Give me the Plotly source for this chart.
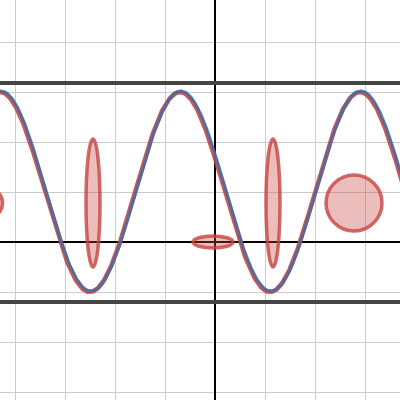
import numpy as np
import plotly.graph_objects as go

# curve parameters: y = mid + amp*cos(2*pi*(x - peak_x)/period)
mid, amp, period, peak_x = 1.0, 2.0, 3.6, -0.7
hlines = [3.18, -1.2]
# ellipses: (cx, cy, rx, ry)
ell_cx = [-2.44, 1.16, -0.04, 2.78, -4.55]
ell_cy = [0.78, 0.78, 0.0, 0.78, 0.78]
ell_rx = [0.14, 0.14, 0.4, 0.56, 0.3]
ell_ry = [1.28, 1.28, 0.12, 0.56, 0.3]

xs = np.linspace(-4.4, 3.8, 800)
ys = mid + amp*np.cos(2*np.pi*(xs-peak_x)/period)

fig = go.Figure()
fig.add_trace(go.Scatter(x=xs, y=ys, mode='lines', line=dict(color='rgba(199,68,64,0.9)', width=4.5)))
fig.add_trace(go.Scatter(x=xs+0.02, y=ys+0.02, mode='lines', line=dict(color='rgba(45,112,179,0.75)', width=3)))
shapes = []
for y in hlines:
    shapes.append(dict(type='line', xref='paper', x0=0, x1=1, y0=y, y1=y, line=dict(color='#444', width=4)))
for cx, cy, rx, ry in zip(ell_cx, ell_cy, ell_rx, ell_ry):
    shapes.append(dict(type='circle', x0=cx-rx, x1=cx+rx, y0=cy-ry, y1=cy+ry,
                       fillcolor='rgba(199,68,64,0.35)', line=dict(color='rgba(199,68,64,0.8)', width=3.5)))
fig.update_layout(shapes=shapes, width=400, height=400, margin=dict(l=0, r=0, t=0, b=0),
                  showlegend=False, plot_bgcolor='white', paper_bgcolor='white')
ax = dict(showticklabels=False, dtick=1, tick0=0, gridcolor='#ccc', gridwidth=1,
          zeroline=True, zerolinecolor='black', zerolinewidth=1.5, fixedrange=True)
fig.update_xaxes(range=[-4.3, 3.7], **ax)
fig.update_yaxes(range=[-3.16, 4.84], **ax)
fig.write_html("out.html", config={'displayModeBar': False},
               post_script="document.body.style.margin='0';document.body.style.overflow='hidden';")
